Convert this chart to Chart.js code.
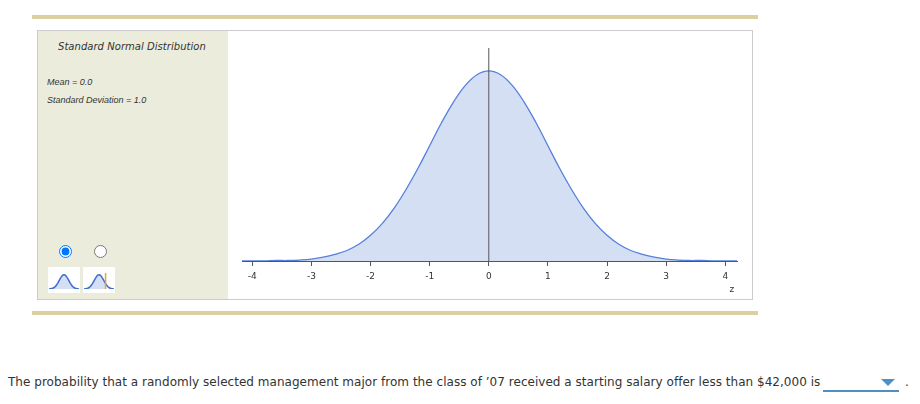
<!DOCTYPE html>
<html>
<head>
<meta charset="utf-8">
<title>Standard Normal Distribution</title>
<script src="https://cdn.jsdelivr.net/npm/chart.js@4"></script>
<style>
    html, body { margin: 0; padding: 0; background: #fff; }
    body { position: relative; width: 920px; height: 404px; overflow: hidden; }
    .rule { position: absolute; left: 32px; width: 726px; height: 4px; background: #DDD0A0; }
    #frame { position: absolute; left: 37px; top: 30px; width: 714px; height: 268px; border: 1px solid #ccc; }
    #panel { position: absolute; left: 38px; top: 31px; width: 190px; height: 268px; background: #ECECDC; }
    .abs { position: absolute; white-space: nowrap; }
    #title { left: 58px; top: 41px; font: italic 10px "DejaVu Sans"; color: #333; letter-spacing: 0.04px; }
    .param { left: 47px; font: italic 9px "Liberation Sans"; color: #333; }
    input[type=radio] { position: absolute; margin: 0; width: 13px; height: 13px; top: 245px; }
    #mainChart { position: absolute; left: 228px; top: 31px; }
    .icon { position: absolute; top: 267px; background: #fff; }
    #sentence { left: 8px; top: 375px; font: 12px "DejaVu Sans"; color: #333; letter-spacing: 0.03px; }
    #answer { position: absolute; left: 823px; top: 390px; width: 76px; height: 2px; background: #4E8FC4; }
    #arrow { position: absolute; left: 881px; top: 379px; width: 0; height: 0;
        border-left: 7px solid transparent; border-right: 7px solid transparent; border-top: 7px solid #4E8FC4; }
    #dot { left: 905px; top: 375px; font: 12px "DejaVu Sans"; color: #333; }
</style>
</head>
<body>
<div class="rule" style="top:15px"></div>
<div class="rule" style="top:311px"></div>
<div id="frame"></div>
<div id="panel"></div>
<div class="abs" id="title">Standard Normal Distribution</div>
<div class="abs param" style="top:77px">Mean = 0.0</div>
<div class="abs param" style="top:95px">Standard Deviation = 1.0</div>
<input type="radio" name="view" style="left:59px" checked>
<input type="radio" name="view" style="left:94px">
<canvas class="icon" id="icon1" width="32" height="26" style="left:48px"></canvas>
<canvas class="icon" id="icon2" width="32" height="26" style="left:83px"></canvas>
<canvas id="mainChart" width="524" height="267"></canvas>
<div class="abs" id="sentence">The probability that a randomly selected management major from the class of ’07 received a starting salary offer less than $42,000 is</div>
<div id="answer"></div>
<div id="arrow"></div>
<div class="abs" id="dot">.</div>

<script>
const zValues = [-4.2, -4, -3.8, -3.6, -3.4, -3.2, -3, -2.8, -2.6, -2.4, -2.2, -2, -1.8, -1.6, -1.4, -1.2, -1, -0.8, -0.6, -0.4, -0.2,
    0, 0.2, 0.4, 0.6, 0.8, 1, 1.2, 1.4, 1.6, 1.8, 2, 2.2, 2.4, 2.6, 2.8, 3, 3.2, 3.4, 3.6, 3.8, 4, 4.2];
const density = [0, 0, 0, 0.001, 0.001, 0.002, 0.004, 0.008, 0.014, 0.022, 0.035, 0.054, 0.079, 0.111, 0.150, 0.194, 0.242, 0.290, 0.333, 0.368, 0.391,
    0.399, 0.391, 0.368, 0.333, 0.290, 0.242, 0.194, 0.150, 0.111, 0.079, 0.054, 0.035, 0.022, 0.014, 0.008, 0.004, 0.002, 0.001, 0.001, 0, 0, 0];
const tickValues = [-4, -3, -2, -1, 0, 1, 2, 3, 4];
const meanLineX = [0, 0];
const meanLineY = [0, 0.447];
const cutoffZ = 1.4;

const curveBlue = '#5580DC';
const fillBlue = '#D4DFF3';

function toPoints(xs, ys) {
    return xs.map((x, i) => ({ x: x, y: ys[i] }));
}

function initMainChart() {
    const ctx = document.getElementById('mainChart').getContext('2d');
    new Chart(ctx, {
        type: 'line',
        data: {
            datasets: [{
                // lower order is drawn on top
                order: 1,
                data: toPoints(meanLineX, meanLineY),
                borderColor: '#555',
                borderWidth: 1,
                pointRadius: 0,
                fill: false
            }, {
                order: 2,
                data: toPoints(zValues, density),
                borderColor: curveBlue,
                backgroundColor: fillBlue,
                borderWidth: 1.3,
                pointRadius: 0,
                tension: 0.4,
                fill: 'origin'
            }]
        },
        options: {
            responsive: false,
            animation: false,
            layout: { padding: { left: 14, right: 15, top: 17, bottom: 0 } },
            plugins: { legend: { display: false }, tooltip: { enabled: false } },
            scales: {
                x: {
                    type: 'linear',
                    min: -4.174,
                    max: 4.198,
                    afterBuildTicks: (axis) => { axis.ticks = tickValues.map(v => ({ value: v })); },
                    afterFit: (axis) => { axis.height = 37; },
                    grid: { drawOnChartArea: false, tickLength: 5, color: '#555' },
                    border: { color: '#555' },
                    ticks: {
                        autoSkip: false,
                        maxRotation: 0,
                        padding: 5,
                        color: '#333',
                        font: { family: 'DejaVu Sans', size: 9 }
                    },
                    title: {
                        display: true,
                        text: 'z ',
                        align: 'end',
                        color: '#333',
                        padding: { top: 0, bottom: 3 },
                        font: { family: 'DejaVu Sans', size: 9 }
                    }
                },
                y: { display: false, min: 0, max: 0.447 }
            }
        }
    });
}

function initIcon(id, showCutoff) {
    const ctx = document.getElementById(id).getContext('2d');
    const fillZ = showCutoff ? zValues.filter(z => z <= cutoffZ) : zValues;
    const datasets = [{
        order: 3,
        data: toPoints(fillZ, density),
        borderWidth: 0,
        backgroundColor: fillBlue,
        pointRadius: 0,
        tension: 0.4,
        fill: 'origin'
    }, {
        order: 2,
        data: toPoints(zValues, density),
        borderColor: '#3F6FCC',
        borderWidth: 1.5,
        pointRadius: 0,
        tension: 0.4,
        fill: false
    }];
    if (showCutoff) {
        datasets.push({
            order: 1,
            data: toPoints([cutoffZ, cutoffZ], meanLineY),
            borderColor: '#F0A030',
            borderWidth: 1.5,
            pointRadius: 0,
            fill: false
        });
    }
    new Chart(ctx, {
        type: 'line',
        data: { datasets: datasets },
        options: {
            responsive: false,
            animation: false,
            layout: { padding: { left: 1, right: 1, top: 6, bottom: 4 } },
            plugins: { legend: { display: false }, tooltip: { enabled: false } },
            scales: {
                x: { display: false, type: 'linear', min: -3.2, max: 3.2 },
                y: { display: false, min: 0, max: 0.447 }
            }
        }
    });
}

initMainChart();
initIcon('icon1', false);
initIcon('icon2', true);
</script>
</body>
</html>
